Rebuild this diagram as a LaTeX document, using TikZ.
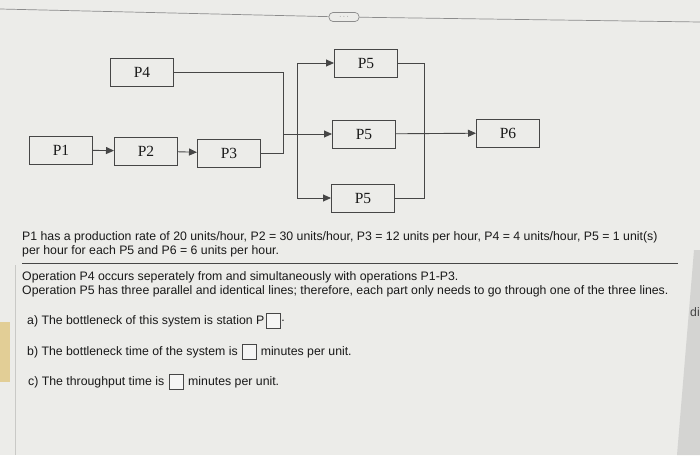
\documentclass[tikz,border=0pt]{standalone}
\usepackage{fontspec}
\setmainfont{Liberation Serif}
\setsansfont{Liberation Sans}
\usetikzlibrary{arrows.meta,positioning}
\begin{document}
\begin{tikzpicture}[x=1pt,y=-1pt]
\definecolor{paper}{RGB}{236,236,233}
\definecolor{linecolor}{RGB}{70,70,70}
\definecolor{inkcolor}{RGB}{25,25,25}
\definecolor{shadecolor}{RGB}{212,212,210}
\definecolor{tabcolor}{RGB}{226,206,150}
\definecolor{rulecolor}{RGB}{140,140,140}
\tikzset{
  stationbox/.style={draw=linecolor,line width=1pt,minimum width=63pt,minimum height=28pt,inner sep=0pt,font=\fontsize{15.5}{17}\selectfont,text=inkcolor},
  flow/.style={draw=linecolor,line width=0.9pt},
  flowarrow/.style={flow,-{Triangle[length=8pt,width=7pt]}},
  bodytext/.style={anchor=west,inner sep=0pt,font=\sffamily\fontsize{12.3}{14}\selectfont,text=inkcolor},
  answerbox/.style={draw=linecolor,line width=0.6pt,minimum width=14pt,minimum height=15pt,inner sep=0pt,fill=white!50!paper}
}
\fill[paper] (0,0) rectangle (700,455);
\useasboundingbox (0,0) rectangle (700,455);
\fill[shadecolor] (694,250) -- (700,250) -- (700,455) -- (677,455) -- cycle;
\fill[tabcolor] (0,322) rectangle (10,382);
\draw[paper!85!black] (15,265) -- (15,455);
\coordinate (topleft) at (0,9);
\coordinate (topright) at (700,22);
\node[draw=rulecolor,line width=0.7pt,rounded corners=4pt,fill=paper,minimum width=30pt,minimum height=9pt,inner sep=0pt,font=\fontsize{7}{7}\selectfont,text=linecolor] (more) at (344,17) {$\cdots$};
\draw[rulecolor,line width=0.7pt] (topleft) -- (more) -- (topright);
\node[stationbox] (P1) at (61,150) {P1};
\node[stationbox] (P2) at (146,151) {P2};
\node[stationbox] (P3) at (229,153) {P3};
\node[stationbox] (P4) at (142,72) {P4};
\node[stationbox] (P5a) at (366,63) {P5};
\node[stationbox] (P5b) at (364,134) {P5};
\node[stationbox] (P5c) at (363,198) {P5};
\node[stationbox] (P6) at (508,133) {P6};
\coordinate (join) at (283,134);
\coordinate (split) at (297,134);
\coordinate (merge) at (424,134);
\draw[flowarrow] (P1) -- (P2);
\draw[flowarrow] (P2) -- (P3);
\draw[flow] (P4.east) -| (join);
\draw[flow] (P3.east) -| (join);
\draw[flow] (join) -- (split);
\draw[flowarrow] (split) -- (P5b);
\draw[flowarrow] (split) |- (P5a);
\draw[flowarrow] (split) |- (P5c);
\draw[flow] (P5a) -| (merge);
\draw[flow] (P5c) -| (merge);
\draw[flowarrow] (P5b) -- (P6);
\node[bodytext,align=left] (rates) at (22,244) {P1 has a production rate of 20 units/hour, P2 = 30 units/hour, P3 = 12 units per hour, P4 = 4 units/hour, P5 = 1 unit(s)\\per hour for each P5 and P6 = 6 units per hour.};
\draw[linecolor,line width=0.8pt] (22,263) -- (678,263);
\node[bodytext,align=left] (notes) at (22,284.5) {Operation P4 occurs seperately from and simultaneously with operations P1-P3.\\Operation P5 has three parallel and identical lines; therefore, each part only needs to go through one of the three lines.};
\node[bodytext] (qa) at (27,321) {a) The bottleneck of this system is station P};
\node[answerbox,right=1pt of qa] (boxa) {};
\node[bodytext,right=1pt of boxa] (dota) {.};
\node[bodytext] (qb) at (27,352) {b) The bottleneck time of the system is};
\node[answerbox,right=4pt of qb] (boxb) {};
\node[bodytext,right=4pt of boxb] (unitb) {minutes per unit.};
\node[bodytext] (qc) at (28,382) {c) The throughput time is};
\node[answerbox,right=5pt of qc] (boxc) {};
\node[bodytext,right=4pt of boxc] (unitc) {minutes per unit.};
\node[bodytext,text=linecolor] (edgenote) at (690,312) {di};
\end{tikzpicture}
\end{document}
